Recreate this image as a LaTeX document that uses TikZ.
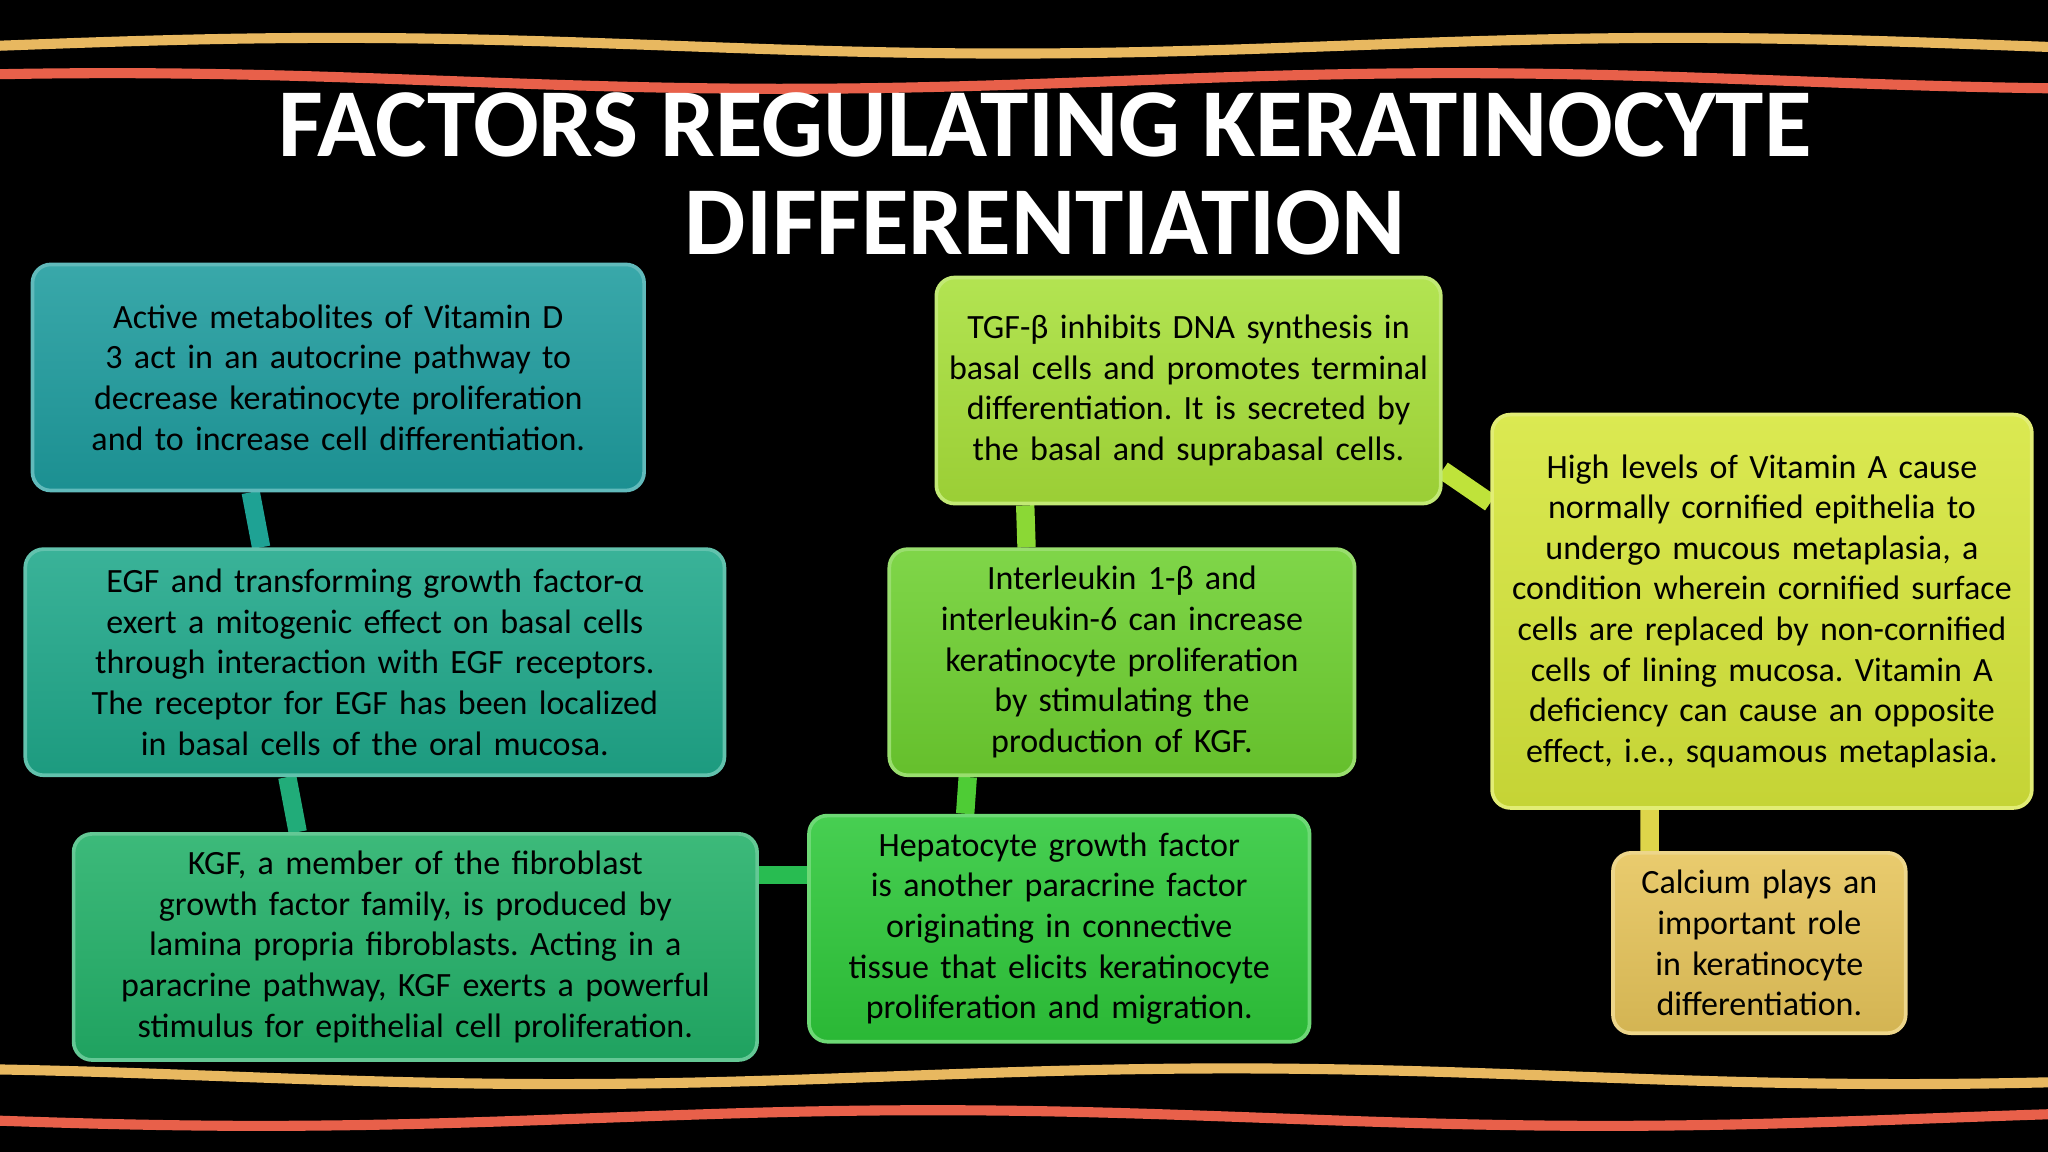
\documentclass[tikz,border=0pt]{standalone}
\usepackage{fontspec}
\setmainfont{Carlito}
\hyphenpenalty=10000 \exhyphenpenalty=10000
\frenchspacing
\usetikzlibrary{calc}
\pgfdeclarelayer{bg}\pgfdeclarelayer{conn}\pgfsetlayers{bg,conn,main}
\definecolor{cA}{HTML}{1E9C9E}\definecolor{cB}{HTML}{1FA88A}\definecolor{cC}{HTML}{22B068}
\definecolor{cD}{HTML}{2EC83A}\definecolor{cE}{HTML}{6ED030}\definecolor{cF}{HTML}{A8E03A}
\definecolor{cG}{HTML}{D6E63A}\definecolor{cH}{HTML}{E6C45A}
\definecolor{wy}{HTML}{E8B860}\definecolor{wr}{HTML}{E8604A}
\tikzset{x=0.01cm,y=-0.01cm,
 box/.style={rounded corners=4pt,draw=#1!70!white,line width=0.8pt,top color=#1!88!white,bottom color=#1!92!black,
   text=black,align=center,font=\fontsize{7.4}{8.85}\selectfont,inner sep=0pt},
 conn/.style={line width=4pt,draw=#1}}
\begin{document}
\begin{tikzpicture}
\useasboundingbox (0,0) rectangle (1568,882);
\begin{pgfonlayer}{bg}
\fill[black] (0,0) rectangle (1568,882);
\draw[wy,line width=2.2pt] plot[domain=0:1568,samples=80] (\x,{35-6*sin(\x*0.35)});
\draw[wr,line width=2.2pt] plot[domain=0:1568,samples=80] (\x,{62-6*sin(\x*0.35+60)});
\draw[wy,line width=2.2pt] plot[domain=0:1568,samples=80] (\x,{824-6*sin(\x*0.35+120)});
\draw[wr,line width=2.2pt] plot[domain=0:1568,samples=80] (\x,{856-6*sin(\x*0.35+200)});
\end{pgfonlayer}
\node[text=white,font=\fontsize{21.2}{21.3}\selectfont\bfseries,align=center] (title) at (800,133)
 {FACTORS REGULATING KERATINOCYTE\\DIFFERENTIATION};
\node[box=cA,minimum width=4.68cm,minimum height=1.73cm,text width=4.4cm] (vd) at (259,289)
 {Active metabolites of Vitamin D 3 act in an autocrine pathway to decrease keratinocyte proliferation and to increase cell differentiation.};
\node[box=cB,minimum width=5.35cm,minimum height=1.73cm,text width=5.2cm] (egf) at (287,507)
 {EGF and transforming growth factor-α exert a mitogenic effect on basal cells through interaction with EGF receptors. The receptor for EGF has been localized in basal cells of the oral mucosa.};
\node[box=cC,minimum width=5.23cm,minimum height=1.73cm,text width=4.75cm] (kgf) at (318,725)
 {KGF, a member of the fibroblast growth factor family, is produced by lamina propria fibroblasts. Acting in a paracrine pathway, KGF exerts a powerful stimulus for epithelial cell proliferation.};
\node[box=cD,minimum width=3.83cm,minimum height=1.73cm,text width=3.75cm] (hgf) at (811,711)
 {Hepatocyte growth factor is another paracrine factor originating in connective tissue that elicits keratinocyte proliferation and migration.};
\node[box=cE,minimum width=3.56cm,minimum height=1.73cm,text width=3.4cm] (il) at (859,507)
 {Interleukin 1-β and\\ interleukin-6 can increase keratinocyte proliferation by stimulating the production of KGF.};
\node[box=cF,minimum width=3.86cm,minimum height=1.73cm,text width=3.8cm] (tgf) at (910,299)
 {TGF-β inhibits DNA synthesis in basal cells and promotes terminal differentiation. It is secreted by the basal and suprabasal cells.};
\node[box=cG,minimum width=4.13cm,minimum height=3.01cm,text width=3.85cm] (va) at (1349,468)
 {High levels of Vitamin A cause normally cornified epithelia to undergo mucous metaplasia, a condition wherein cornified surface cells are replaced by non-cornified cells of lining mucosa. Vitamin A deficiency can cause an opposite effect, i.e., squamous metaplasia.};
\node[box=cH,minimum width=2.24cm,minimum height=1.38cm,text width=2.1cm] (ca) at (1347,722)
 {Calcium plays an important role in keratinocyte differentiation.};
\begin{pgfonlayer}{conn}
\draw[conn=cA!50!cB] ([xshift=-0.67cm]vd.south) -- ([xshift=-0.87cm]egf.north);
\draw[conn=cB!50!cC] ([xshift=-0.67cm]egf.south) -- ([xshift=-0.90cm]kgf.north);
\draw[conn=cC!50!cD] (kgf.east |- 0,670) -- (hgf.west |- 0,670);
\draw[conn=cD!50!cE] ([xshift=-0.72cm]hgf.north) -- ([xshift=-1.18cm]il.south);
\draw[conn=cE!50!cF] ([xshift=-0.73cm]il.north) -- ([xshift=-1.25cm]tgf.south);
\draw[conn=cF!50!cG] (tgf.east |- 0,360) -- (va.west |- 0,385);
\draw[conn=cG!50!cH] ([xshift=-0.86cm]va.south) -- ([xshift=-0.84cm]ca.north);
\end{pgfonlayer}
\end{tikzpicture}
\end{document}
